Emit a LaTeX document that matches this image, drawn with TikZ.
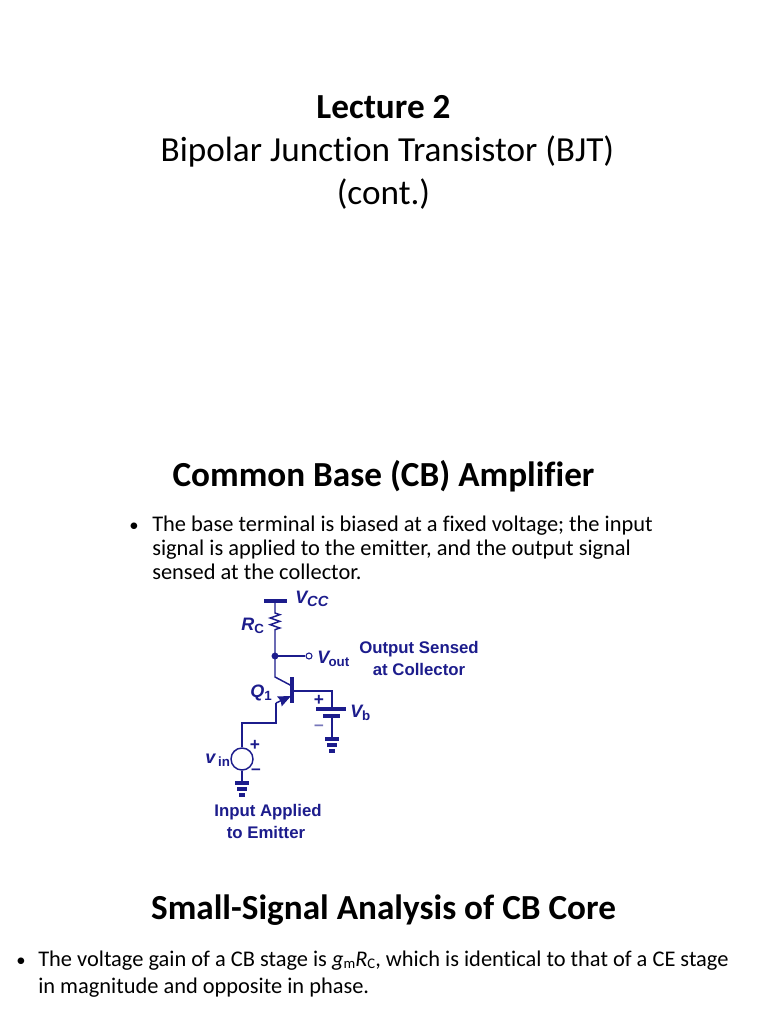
\documentclass[tikz,border=0pt]{standalone}
\usepackage{fontspec}
\setmainfont{Carlito}[RawFeature={-liga}]
\newfontfamily\labelfont{Liberation Sans}
\usetikzlibrary{arrows.meta,decorations.pathmorphing}
\definecolor{navy}{HTML}{1C1C8C}
\tikzset{
  wire/.style={navy,line width=1.1pt},
  plate/.style={navy,line width=2.4pt},
  title/.style={font=\fontsize{26.4}{26.4}\selectfont,anchor=base},
  head/.style={font=\fontsize{26.4}{26.4}\selectfont\bfseries,anchor=base},
  body/.style={font=\fontsize{16.8}{16.8}\selectfont,anchor=base west,inner sep=0pt},
  dot/.style={font=\fontsize{14}{14}\selectfont,anchor=base west,inner sep=0pt},
  sym/.style={font=\labelfont\bfseries\fontsize{13.5}{13.5}\selectfont,text=navy,inner sep=0pt,anchor=base west},
  pol/.style={font=\labelfont\bfseries\fontsize{13}{13}\selectfont,text=navy,inner sep=0pt},
  note/.style={font=\labelfont\bfseries\fontsize{12.6}{12.6}\selectfont,text=navy,inner sep=0pt},
}
\newcommand{\groundat}[2]{%
  \foreach \i/\w in {0/7,6/5,12/3}{\draw[plate] (#1-\w,#2+\i) -- (#1+\w,#2+\i);}
}
\newcommand{\subs}[1]{\raisebox{-2.5pt}{\fontsize{10}{10}\selectfont #1}}
\begin{document}
\begin{tikzpicture}[x=0.75pt,y=-0.75pt]
\fill[white] (0,0) rectangle (768,1024);
\useasboundingbox (0,0) rectangle (768,1024);
% slide text
\node[head] (lect) at (383.5,118.5) {Lecture 2};
\node[title] (bjt) at (387.5,161.5) {Bipolar Junction Transistor (BJT)};
\node[title] (cont) at (383.5,204.5) {(cont.)};
\node[head] (cb) at (383.5,486) {Common Base (CB) Amplifier};
\node[dot] (dota) at (129,531) {•};
\node[body] (la) at (152,531) {The base terminal is biased at a fixed voltage; the input};
\node[body] (lb) at (152,555) {signal is applied to the emitter, and the output signal};
\node[body] (lc) at (152,579) {sensed at the collector.};
\node[head] (ss) at (383.5,919) {Small-Signal Analysis of CB Core};
\node[dot] (dotb) at (16,966) {•};
\node[body] (ld) at (38,966) {The voltage gain of a CB stage is \textit{g}\raisebox{-2pt}{\fontsize{11}{11}\selectfont m}\textit{R}\raisebox{-2pt}{\fontsize{11}{11}\selectfont C}, which is identical to that of a CE stage};
\node[body] (le) at (38,993) {in magnitude and opposite in phase.};
% circuit points
\coordinate (vcc) at (275,601);
\coordinate (out) at (275,656);
\coordinate (coll) at (275,677);
\coordinate (btop) at (292,677);
\coordinate (bbot) at (292,703);
\coordinate (bmid) at (292,691);
\coordinate (ccin) at (292,686);
\coordinate (eout) at (291,696);
\coordinate (emit) at (276,703);
\coordinate (ebot) at (276,723);
\coordinate (sleft) at (242,723);
\coordinate (bat) at (332,691);
\coordinate (plus) at (332,709);
\coordinate (minus) at (332,716);
\coordinate (gndb) at (332,739);
\coordinate (gnds) at (242,783);
\node[circle,draw=navy,line width=1.1pt,minimum size=22pt*0.75,inner sep=0pt] (src) at (242,759) {};
\node[circle,draw=navy,line width=0.8pt,fill=white,minimum size=4.5pt,inner sep=0pt] (outpin) at (309,656) {};
% supply, resistor, output
\draw[plate] (264,601) -- (287,601);
\draw[wire,decoration={zigzag,segment length=5pt,amplitude=3.6pt,pre length=9pt,post length=18pt},decorate] (vcc) -- (out);
\draw[wire] (out) -- (coll) -- (ccin);
\draw[wire] (out) -- (outpin);
\fill[navy] (out) circle (2.6pt);
% transistor
\draw[navy,line width=2.4pt] (btop) -- (bbot);
\draw[wire] (bmid) -- (bat) -- (plus);
\draw[wire,-{Stealth[length=9.5pt,width=8pt,inset=1pt]}] (emit) -- (eout);
\draw[wire] (emit) -- (ebot) -- (sleft) -- (src);
\draw[wire] (src) -- (gnds);
% battery
\draw[plate] (316,709) -- (346,709);
\draw[plate] (323,716) -- (340,716);
\draw[wire] (minus) -- (gndb);
\groundat{332}{739}
\groundat{242}{783}
% circuit labels
\node[sym] (vcclab) at (295,603) {\textit{V}\kern-1pt\subs{\fontsize{11}{11}\selectfont\textit{CC}}};
\node[sym] (rc) at (241,630) {\textit{R}\subs{C}};
\node[sym] (vout) at (317,663) {\textit{V}\kern-1.5pt\subs{out}};
\node[sym] (q1) at (250,697) {\textit{Q}\subs{1}};
\node[sym] (vb) at (350,717) {\textit{V}\kern-1pt\subs{b}};
\node[sym] (vin) at (205,763) {\textit{v}\kern1.5pt\subs{in}};
\node[pol] (bp) at (319,700) {+};
\node[pol,text=navy!60] (bm) at (319,728) {–};
\node[pol] (sp) at (255,745) {+};
\node[pol] (sm) at (256,772) {–};
\node[note] (o1) at (419,649.5) {Output Sensed};
\node[note] (o2) at (419,669.5) {at Collector};
\node[note] (i1) at (268,812.5) {Input Applied};
\node[note] (i2) at (266,832.5) {to Emitter};
\end{tikzpicture}
\end{document}
